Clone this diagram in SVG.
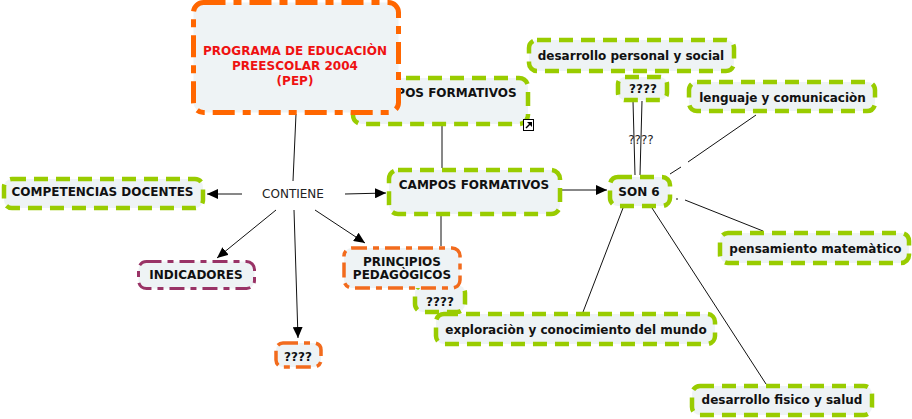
<svg xmlns="http://www.w3.org/2000/svg" width="912" height="419" viewBox="0 0 912 419">
<style>
.bg{fill:#ffffff}
.n{fill:#eef3f5;stroke-linejoin:round}
.g{stroke:#99cc00;stroke-width:4.5;stroke-dasharray:14 8}
.o{stroke:#f26b1d;stroke-width:3.5;stroke-dasharray:15 6 6 6}
.om{stroke:#ff6600;stroke-width:5;stroke-dasharray:22 8 8 8}
.p{stroke:#993366;stroke-width:3;stroke-dasharray:15 6 6 6}
.t{font-family:"DejaVu Sans",Verdana,sans-serif;font-size:12px;font-weight:bold;fill:#111;text-anchor:middle}
.tr{fill:#ee1111}
.l{font-family:"DejaVu Sans",Verdana,sans-serif;font-size:12px;fill:#222;text-anchor:middle}
.c{stroke:#111;stroke-width:1;fill:none}
</style>
<defs>
<marker id="ah" markerUnits="userSpaceOnUse" markerWidth="12" markerHeight="10" refX="11" refY="5" orient="auto">
<path d="M0,0 L11,5 L0,10 Z" fill="#000"/>
</marker>
</defs>
<rect class="bg" x="0" y="0" width="912" height="419"/>

<g id="connectors">
<line class="c" x1="296" y1="114" x2="293" y2="181"/>
<line class="c" x1="242" y1="194" x2="207" y2="194" marker-end="url(#ah)"/>
<line class="c" x1="345" y1="194" x2="386" y2="193" marker-end="url(#ah)"/>
<line class="c" x1="276" y1="210" x2="217" y2="258" marker-end="url(#ah)"/>
<line class="c" x1="315" y1="210" x2="365" y2="243" marker-end="url(#ah)"/>
<line class="c" x1="294" y1="210" x2="298" y2="338" marker-end="url(#ah)"/>
<line class="c" x1="442" y1="126" x2="442" y2="168"/>
<line class="c" x1="441" y1="216" x2="441" y2="246"/>
<line class="c" x1="562" y1="190" x2="607" y2="190" marker-end="url(#ah)"/>
<line class="c" x1="633" y1="101" x2="635" y2="175"/>
<line class="c" x1="642" y1="101" x2="640" y2="175"/>
<line class="c" x1="670" y1="174" x2="681" y2="167"/>
<line class="c" x1="688" y1="162" x2="756" y2="115"/>
<line class="c" x1="676" y1="199" x2="678" y2="199"/>
<line class="c" x1="685" y1="200" x2="763" y2="231"/>
<line class="c" x1="623" y1="208" x2="583" y2="312"/>
<line class="c" x1="652" y1="208" x2="766" y2="384"/>
<text class="l" x="641" y="144">????</text>
</g>

<g id="campos-ref">
<rect class="n g" x="353" y="78" width="175" height="46" rx="9"/>
<text class="t" x="441.5" y="96.5">CAMPOS FORMATIVOS</text>
<rect x="523.5" y="119.5" width="10" height="11" fill="#fff" stroke="#000" stroke-width="1"/>
<path d="M526,128 L530.5,123.5" stroke="#000" stroke-width="1.5"/>
<path d="M527,122 L532,122 L532,127 Z" fill="#000"/>
</g>

<g id="programa">
<rect class="n om" x="193.5" y="2.5" width="205" height="110" rx="10"/>
<text class="t tr" x="295" y="54.5">PROGRAMA DE EDUCACIÒN</text>
<text class="t tr" x="295" y="69.5">PREESCOLAR 2004</text>
<text class="t tr" x="295" y="84.5">(PEP)</text>
</g>

<g id="contiene">
<text class="l" x="293" y="198">CONTIENE</text>
</g>

<g id="competencias">
<rect class="n g" x="4" y="179" width="199" height="29" rx="8"/>
<text class="t" x="102.5" y="196">COMPETENCIAS DOCENTES</text>
</g>

<g id="indicadores">
<rect class="n p" x="138.5" y="261.5" width="116" height="27" rx="8"/>
<text class="t" x="196" y="278.5">INDICADORES</text>
</g>

<g id="campos">
<rect class="n g" x="389" y="170" width="171" height="44" rx="9"/>
<text class="t" x="474" y="188.5">CAMPOS FORMATIVOS</text>
</g>

<g id="q-principios">
<rect class="n g" x="415" y="285" width="50" height="27" rx="8"/>
<text class="t" x="440" y="305.5">????</text>
</g>

<g id="principios">
<rect class="n o" x="344" y="248" width="116" height="40" rx="8"/>
<text class="t" x="402" y="265.5">PRINCIPIOS</text>
<text class="t" x="402" y="278.5">PEDAGÒGICOS</text>
</g>

<g id="exploracion">
<rect class="n g" x="436" y="314" width="279" height="30" rx="8"/>
<text class="t" x="576" y="333.5">exploraciòn y conocimiento del mundo</text>
</g>

<g id="q-bottom">
<rect class="n o" x="276" y="343" width="45" height="24" rx="7"/>
<text class="t" x="298" y="360.5">????</text>
</g>

<g id="son6">
<rect class="n g" x="610" y="177" width="60" height="29" rx="8"/>
<text class="t" x="639" y="195.5">SON 6</text>
</g>

<g id="desarrollo-personal">
<rect class="n g" x="529" y="40" width="205" height="31" rx="8"/>
<text class="t" x="631" y="59.5">desarrollo personal y social</text>
</g>

<g id="q-top">
<rect class="n g" x="618" y="77" width="49" height="23" rx="7"/>
<text class="t" x="643" y="92.5">????</text>
</g>

<g id="lenguaje">
<rect class="n g" x="689" y="82" width="186" height="29" rx="8"/>
<text class="t" x="782.5" y="101.5">lenguaje y comunicaciòn</text>
</g>

<g id="pensamiento">
<rect class="n g" x="720" y="233" width="189" height="30" rx="8"/>
<text class="t" x="815.5" y="252.5">pensamiento matemàtico</text>
</g>

<g id="desarrollo-fisico">
<rect class="n g" x="692" y="386" width="180" height="29" rx="8"/>
<text class="t" x="782" y="403.5">desarrollo fisico y salud</text>
</g>
</svg>
